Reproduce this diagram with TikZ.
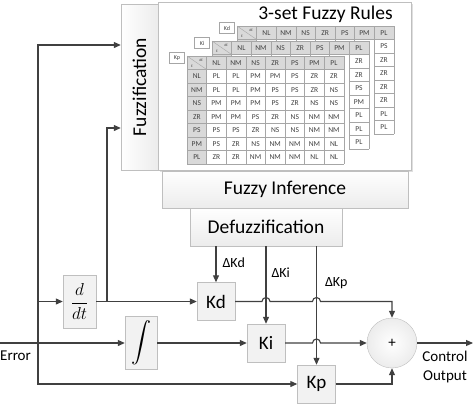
\documentclass[tikz,border=0pt]{standalone}
\usepackage{fontspec}
\setmainfont{Carlito}
\usetikzlibrary{arrows.meta,calc,shadows}
\definecolor{linegray}{HTML}{404040}
\definecolor{edgegray}{HTML}{BFBFBF}
\definecolor{gridgray}{HTML}{A6A6A6}
\definecolor{headgray}{HTML}{D9D9D9}
\definecolor{textgray}{HTML}{404040}

\def\cw{19.6}
\def\ch{13.5}
% one rule table: top left corner x, y and its gain name
\newcommand{\ruletable}[3]{%
  \begin{scope}[shift={(#1,#2)}]
    \fill[white] (0,0) rectangle (8*\cw+5,8*\ch+5);
    \fill[white] (0,0) rectangle (8*\cw,8*\ch);
    \fill[headgray] (0,0) rectangle (8*\cw,\ch);
    \fill[headgray] (0,\ch) rectangle (\cw,8*\ch);
    \foreach \i in {0,...,8} {
      \draw[gridgray, line width=0.5pt] (\i*\cw,0) -- (\i*\cw,8*\ch);
      \draw[gridgray, line width=0.5pt] (0,\i*\ch) -- (8*\cw,\i*\ch);
    }
    \draw[gridgray, line width=0.4pt] (0,0) -- (\cw,\ch);
    \node[tinytxt] (#3-de) at (0.72*\cw,0.3*\ch) {dE};
    \node[tinytxt] (#3-e) at (0.25*\cw,0.75*\ch) {E};
    \foreach \t [count=\c] in {NL,NM,NS,ZR,PS,PM,PL}
      \node[celltxt] (#3-h\c) at (\c*\cw+0.5*\cw,0.5*\ch) {\t};
    \node[tagbox] (#3-tag) at (-10,2) {#3};
  \end{scope}}

\begin{document}
\begin{tikzpicture}[x=1pt,y=-1pt,
    arr/.style={draw=linegray, line width=1.1pt, -{Triangle[length=7pt,width=6pt]}},
    block/.style={draw=edgegray, fill=gray!10, minimum width=38pt, minimum height=38pt,
      inner sep=0pt, font=\fontsize{19}{22}\selectfont},
    stage/.style={draw=edgegray, top color=white, bottom color=gray!15, inner sep=0pt,
      font=\fontsize{19.5}{22}\selectfont},
    lbl/.style={font=\fontsize{15}{19}\selectfont, inner sep=1pt},
    dlbl/.style={font=\fontsize{14}{16}\selectfont, inner sep=0pt},
    celltxt/.style={font=\fontsize{7.5}{8}\selectfont, text=textgray, inner sep=0pt},
    tinytxt/.style={font=\fontsize{3.5}{4}\selectfont, text=textgray, inner sep=0pt},
    tagbox/.style={draw=gridgray, fill=white, font=\fontsize{6}{7}\selectfont, inner sep=0pt,
      minimum width=15pt, minimum height=11pt, text=textgray}]
  \useasboundingbox (0,0) rectangle (474,405);

  % Rule base
  \node[draw=edgegray, fill=white, drop shadow={shadow xshift=2pt, shadow yshift=-2pt, fill=gray!50, opacity=0.5},
    minimum width=253pt, minimum height=168pt, inner sep=0pt] (rules) at (284.5,86) {};
  \node[font=\fontsize{19.5}{22}\selectfont, inner sep=0pt] (rtitle) at (325.5,14.5) {3-set Fuzzy Rules};

  \ruletable{237}{26}{Kd}
  \foreach \t [count=\r] in {PS,ZR,ZR,ZR,ZR,PL,PL}
    \node[celltxt] (Kd-c\r) at (237+7.5*\cw,26+\r*\ch+0.5*\ch) {\t};
  \ruletable{212}{41}{Ki}
  \foreach \t [count=\r] in {ZR,ZR,PS,PM,PL,PL,PL}
    \node[celltxt] (Ki-c\r) at (212+7.5*\cw,41+\r*\ch+0.5*\ch) {\t};
  \ruletable{187}{56}{Kp}
  \foreach \t [count=\r] in {NL,NM,NS,ZR,PS,PM,PL}
    \node[celltxt] (Kp-r\r) at (187+0.5*\cw,56+\r*\ch+0.5*\ch) {\t};
  \foreach \row [count=\r] in {{PL,PL,PM,PM,PS,ZR,ZR},{PL,PL,PM,PS,PS,ZR,NS},
      {PM,PM,PM,PS,ZR,NS,NS},{PM,PM,PS,ZR,NS,NM,NM},{PS,PS,ZR,NS,NS,NM,NM},
      {PS,ZR,NS,NM,NM,NM,NL},{ZR,ZR,NM,NM,NM,NL,NL}}
    \foreach \t [count=\c] in \row
      \node[celltxt] (Kp-\r-\c) at (187+\c*\cw+0.5*\cw,56+\r*\ch+0.5*\ch) {\t};

  % Fuzzy stages
  \node[draw=edgegray, left color=white, right color=gray!15, inner sep=0pt,
    minimum width=37pt, minimum height=166pt, font=\fontsize{19.5}{22}\selectfont]
    (fuzzif) at (139.5,87) {\rotatebox{90}{Fuzzification}};
  \node[stage, minimum width=246pt, minimum height=37pt] (infer) at (285,189.5) {Fuzzy Inference};
  \node[stage, minimum width=152pt, minimum height=38pt] (defuz) at (266,227) {Defuzzification};

  % Controller blocks
  \node[block, minimum width=33pt, minimum height=53pt] (ddt) at (79.5,301.5)
    {\fontsize{16}{18}\selectfont$\displaystyle\frac{d}{dt}$};
  \node[block, minimum width=32pt, minimum height=53pt] (intg) at (141,343)
    {\fontsize{10}{12}\selectfont\scalebox{2}{$\displaystyle\int$}};
  \node[block] (kd) at (216,301.5) {Kd};
  \node[block] (ki) at (266,343) {Ki};
  \node[block] (kp) at (316.5,384) {Kp};
  \node[circle, draw=edgegray, inner color=white, outer color=gray!15, minimum size=50pt,
    inner sep=0pt, font=\fontsize{15}{18}\selectfont] (sum) at (392,343) {+};

  % Error paths
  \coordinate (errin) at (0,343);
  \coordinate (split) at (38,343);
  \coordinate (dsplit) at (107,301.5);
  \coordinate (out) at (473,343);
  \draw[arr] (errin) -- (intg);
  \draw[arr] (split) |- ([yshift=42pt]fuzzif.west);
  \draw[arr] (split |- ddt) -- (ddt);
  \draw[arr] (split) |- (kp);
  \draw[arr] (ddt) -- (kd);
  \draw[arr] (dsplit) |- ([yshift=-41pt]fuzzif.west);
  \draw[arr] (intg) -- (ki);

  % Gain updates
  \draw[arr] (defuz.south -| kd) -- node[dlbl, right=6pt, pos=0.45] (dkd) {ΔKd} (kd);
  \draw[arr] (defuz.south -| ki) -- node[dlbl, right=5pt, pos=0.34] (dki) {ΔKi} (ki);
  \draw[arr] (defuz.south -| kp) -- node[dlbl, right=8pt, pos=0.31] (dkp) {ΔKp} (kp);

  % Sum and output
  \draw[arr] (kd) -- ($(kd -| ki)+(-4pt,0)$) arc[start angle=180, end angle=0, radius=4pt]
    -- ($(kd -| kp)+(-4pt,0)$) arc[start angle=180, end angle=0, radius=4pt] -| (sum);
  \draw[arr] (ki) -- ($(ki -| kp)+(-4pt,0)$) arc[start angle=180, end angle=0, radius=4pt] -- (sum);
  \draw[arr] (kp) -| (sum);
  \draw[arr] (sum) -- (out);

  \node[lbl, anchor=west] (errlbl) at (-1,356) {Error};
  \node[lbl, align=center] (outlbl) at (445,367) {Control\\Output};
\end{tikzpicture}
\end{document}
